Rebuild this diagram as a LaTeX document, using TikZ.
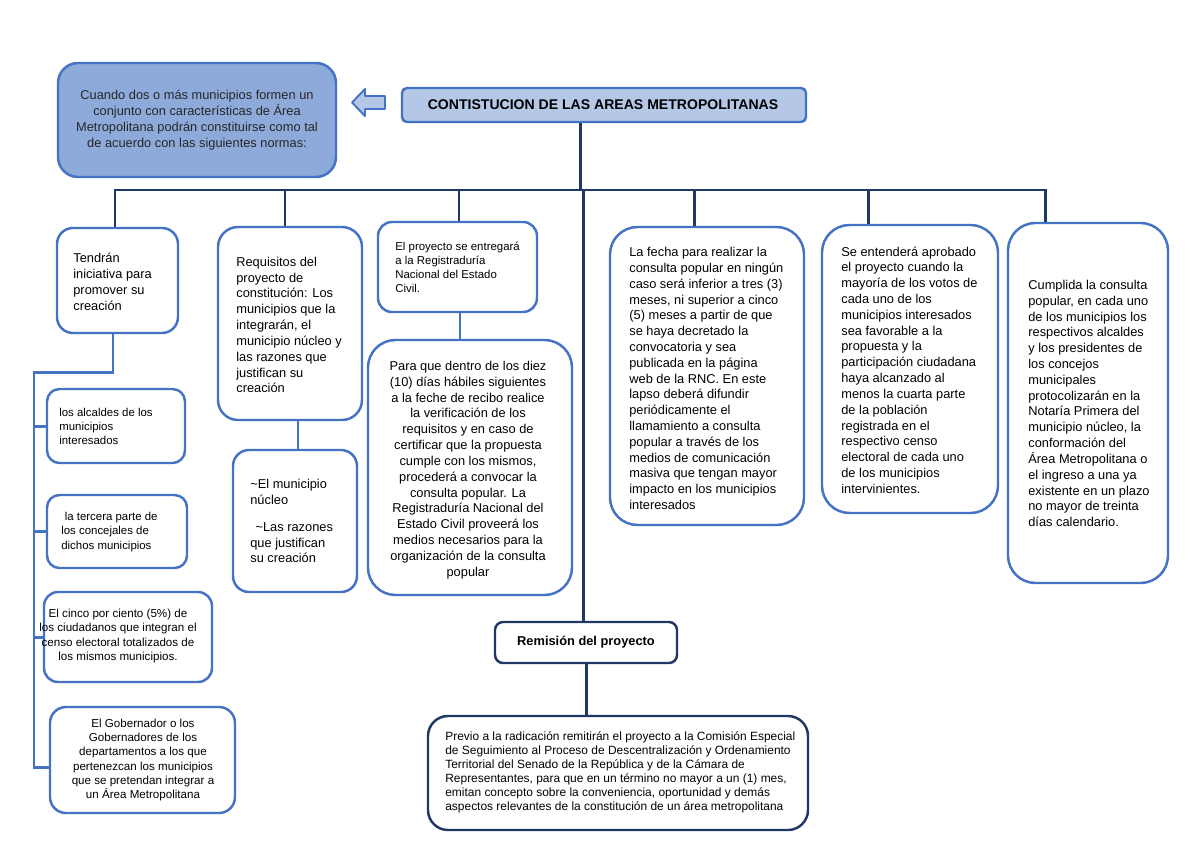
\documentclass[tikz,border=0pt]{standalone}
\usepackage{fontspec}
\setmainfont{Liberation Sans}
\usetikzlibrary{fit}
\definecolor{bblue}{RGB}{68,114,196}
\definecolor{navy}{RGB}{32,56,100}
\definecolor{midblue}{RGB}{142,170,219}
\definecolor{lightblue}{RGB}{180,199,231}
\begin{document}
\begin{tikzpicture}[x=0.02cm,y=-0.02cm,
  box/.style={draw=bblue, line width=1.4pt, fill=white, inner sep=0pt, rounded corners=#1},
  box/.default=0.3cm,
  txt/.style={inner sep=0pt, align=left, anchor=west, font=\fontsize{7.3pt}{9pt}\selectfont},
  stxt/.style={inner sep=0pt, align=left, anchor=west, font=\fontsize{6.5pt}{8pt}\selectfont},
  ctxt/.style={inner sep=0pt, align=center, font=\fontsize{7.3pt}{9pt}\selectfont},
  sctxt/.style={inner sep=0pt, align=center, font=\fontsize{6.6pt}{8pt}\selectfont},
  conn/.style={draw=navy, line width=1.7pt},
  bconn/.style={draw=bblue, line width=1.7pt}]
\fill[white] (0,0) rectangle (1200,849);
\useasboundingbox (0,0) rectangle (1200,849);

% top-left box and title
\node[box=0.4cm, fill=midblue, fit={(58,63)(336,177)}] (tl) {};
\node[ctxt, color=black!85] (tl-t) at (197,120) {Cuando dos o más municipios formen un\\conjunto con características de Área\\Metropolitana podrán constituirse como tal\\de acuerdo con las siguientes normas:};
\node[box=0.1cm, fill=lightblue, fit={(402,88)(806,122)}] (title) {};
\node[inner sep=0pt, font=\bfseries\fontsize{8pt}{9pt}\selectfont] (title-t) at (603,105) {CONTISTUCION DE LAS AREAS METROPOLITANAS};
\filldraw[fill=lightblue, draw=bblue, line width=1.1pt, line join=round]
  (385,96) -- (365,96) -- (365,89) -- (352,102.5) -- (365,116) -- (365,109) -- (385,109) -- cycle;

% level boxes
\node[box=0.32cm, fit={(57,228)(178,333)}] (tend) {};
\node[txt] (tend-t) at (73,282) {Tendrán\\iniciativa para\\promover su\\creación};

\node[box=0.25cm, fit={(47,389)(185,463)}] (alc) {};
\node[stxt] (alc-t) at (59,426) {los alcaldes de los\\municipios\\interesados};

\node[box=0.25cm, fit={(47,495)(187,568)}] (ter) {};
\node[stxt] (ter-t) at (61,532) {\hspace*{2pt}la tercera parte de\\los concejales de\\dichos municipios};

\node[box=0.28cm, fit={(44,592)(212,682)}] (cin) {};
\node[sctxt] (cin-t) at (118,636) {El cinco por ciento (5\%) de\\los ciudadanos que integran el\\censo electoral totalizados de\\los mismos municipios.};

\node[box=0.32cm, fit={(50,707)(235,813)}] (gob) {};
\node[sctxt] (gob-t) at (143,760) {El Gobernador o los\\Gobernadores de los\\departamentos a los que\\pertenezcan los municipios\\que se pretendan integrar a\\un Área Metropolitana};

\node[box=0.4cm, fit={(218,227)(362,420)}] (req) {};
\node[txt] (req-t) at (236,325) {Requisitos del\\proyecto de\\constitución: Los\\municipios que la\\integrarán, el\\municipio núcleo y\\las razones que\\justifican su\\creación};

\node[box=0.32cm, fit={(233,450)(357,592)}] (el) {};
\node[txt] (el-t) at (250,521) {\textasciitilde El municipio\\núcleo\\[6.5pt]\hspace*{3pt}\textasciitilde Las razones\\que justifican\\su creación};

\node[box=0.28cm, fit={(378,222)(537,312)}] (reg) {};
\node[stxt] (reg-t) at (395,267.5) {El proyecto se entregará\\a la Registraduría\\Nacional del Estado\\Civil.};

\node[box=0.55cm, fit={(368,340)(572,595)}] (para) {};
\node[ctxt] (para-t) at (468,470) {Para que dentro de los diez\\(10) días hábiles siguientes\\a la feche de recibo realice\\la verificación de los\\requisitos y en caso de\\certificar que la propuesta\\cumple con los mismos,\\procederá a convocar la\\consulta popular. La\\Registraduría Nacional del\\Estado Civil proveerá los\\medios necesarios para la\\organización de la consulta\\popular};

\node[box=0.55cm, fit={(610,227)(804,525)}] (fecha) {};
\node[txt] (fecha-t) at (629,378.5) {La fecha para realizar la\\consulta popular en ningún\\caso será inferior a tres (3)\\meses, ni superior a cinco\\(5) meses a partir de que\\se haya decretado la\\convocatoria y sea\\publicada en la página\\web de la RNC. En este\\lapso deberá difundir\\periódicamente el\\llamamiento a consulta\\popular a través de los\\medios de comunicación\\masiva que tengan mayor\\impacto en los municipios\\interesados};

\node[box=0.55cm, fit={(822,225)(998,513)}] (ent) {};
\node[txt] (ent-t) at (841,370) {Se entenderá aprobado\\el proyecto cuando la\\mayoría de los votos de\\cada uno de los\\municipios interesados\\sea favorable a la\\propuesta y la\\participación ciudadana\\haya alcanzado al\\menos la cuarta parte\\de la población\\registrada en el\\respectivo censo\\electoral de cada uno\\de los municipios\\intervinientes.};

\node[box=0.55cm, fit={(1008,223)(1168,583)}] (cump) {};
\node[txt] (cump-t) at (1028,403.5) {Cumplida la consulta\\popular, en cada uno\\de los municipios los\\respectivos alcaldes\\y los presidentes de\\los concejos\\municipales\\protocolizarán en la\\Notaría Primera del\\municipio núcleo, la\\conformación del\\Área Metropolitana o\\el ingreso a una ya\\existente en un plazo\\no mayor de treinta\\días calendario.};

\node[box=0.16cm, draw=navy, fit={(495,622)(677,663)}] (rem) {};
\node[inner sep=0pt, font=\bfseries\fontsize{7.3pt}{9pt}\selectfont] (rem-t) at (586,642.5) {Remisión del proyecto};

\node[box=0.4cm, draw=navy, fit={(428,716)(808,830)}] (prev) {};
\node[inner sep=0pt, align=left, anchor=west, font=\fontsize{6.8pt}{7.9pt}\selectfont] (prev-t) at (445,772.5) {Previo a la radicación remitirán el proyecto a la Comisión Especial\\de Seguimiento al Proceso de Descentralización y Ordenamiento\\Territorial del Senado de la República y de la Cámara de\\Representantes, para que en un término no mayor a un (1) mes,\\emitan concepto sobre la conveniencia, oportunidad y demás\\aspectos relevantes de la constitución de un área metropolitana};

% navy connectors
\coordinate (trunk) at (580,190);
\coordinate (k1) at (115,190);
\coordinate (k2) at (285,190);
\coordinate (k3) at (459,190);
\coordinate (k4) at (583,190);
\coordinate (k5) at (694,190);
\coordinate (k6) at (868,190);
\coordinate (k7) at (1045,190);
\draw[conn] (title.south -| trunk) -- (trunk);
\draw[conn] (k1 |- tend.north) -- (k1) -- (k7) -- (k7 |- cump.north);
\draw[conn] (k2) -- (k2 |- req.north);
\draw[conn] (k3) -- (k3 |- reg.north);
\draw[conn] (k4) -- (k4 |- rem.north);
\draw[conn] (k5) -- (k5 |- fecha.north);
\draw[conn] (k6) -- (k6 |- ent.north);
\draw[conn] (rem.south) -- (rem.south |- prev.north);

% blue connectors
\coordinate (j1) at (113,372);
\coordinate (sp) at (34,372);
\coordinate (sb) at (34,767);
\draw[bconn] (j1 |- tend.south) -- (j1) -- (sp) -- (sb) -- (sb -| gob.west);
\draw[bconn] (sp |- alc.west) -- (alc.west);
\draw[bconn] (sp |- ter.west) -- (ter.west);
\draw[bconn] (sp |- cin.west) -- (cin.west);
\coordinate (rq) at (298,0);
\draw[bconn] (req.south -| rq) -- (el.north -| rq);
\coordinate (rg) at (460,0);
\draw[bconn] (reg.south -| rg) -- (para.north -| rg);
\end{tikzpicture}
\end{document}
